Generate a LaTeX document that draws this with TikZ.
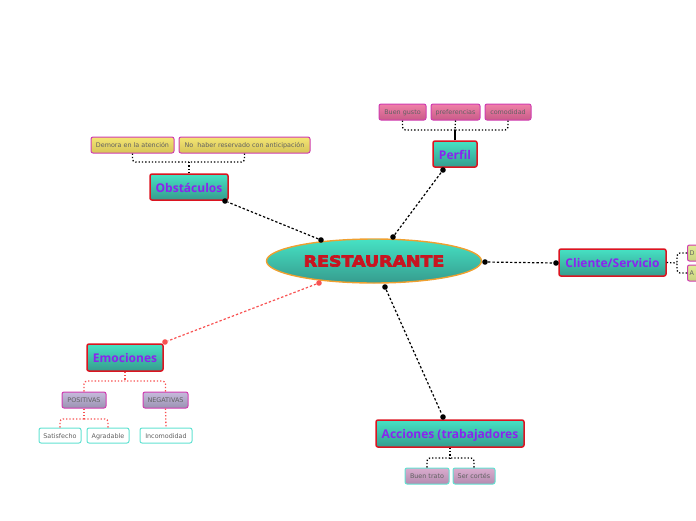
\documentclass[tikz,border=0pt]{standalone}
\usepackage{fontspec}
\setmainfont{DejaVu Sans}
\newfontfamily\ramafont{Open Sans Bold}
\newfontfamily\titulofont[FakeBold=4.5,FakeStretch=1.16]{DejaVu Sans Bold}
\usetikzlibrary{positioning}
\usetikzlibrary{shapes.geometric}

\definecolor{rojoBorde}{HTML}{DC1420}
\definecolor{rojoTitulo}{HTML}{C81420}
\definecolor{morado}{HTML}{8A24EE}
\definecolor{rojoLink}{HTML}{F85252}
\definecolor{tealA}{HTML}{46E2C4}
\definecolor{tealB}{HTML}{369C8E}
\definecolor{naranja}{HTML}{EFA030}
\definecolor{magentaBorde}{HTML}{D03CB0}
\definecolor{rosaA}{HTML}{F080A8}
\definecolor{rosaB}{HTML}{C85C88}
\definecolor{amarillaA}{HTML}{F4E674}
\definecolor{amarillaB}{HTML}{D6C458}
\definecolor{verdosaA}{HTML}{E2EC96}
\definecolor{verdosaB}{HTML}{C8D27E}
\definecolor{lilaA}{HTML}{C6BADC}
\definecolor{lilaB}{HTML}{9A92B2}
\definecolor{malvaA}{HTML}{DAACCE}
\definecolor{malvaB}{HTML}{B48CB0}
\definecolor{aguaBorde}{HTML}{62E2D2}

\tikzset{
  centro/.style={ellipse,draw=naranja,line width=1.4pt,top color=tealA,bottom color=tealB,
    minimum width=215,minimum height=44,inner sep=0,text=rojoTitulo,font=\titulofont\fontsize{15}{17}\selectfont},
  rama/.style={draw=rojoBorde,line width=1.5pt,rounded corners=2pt,top color=tealA,bottom color=tealB,
    inner sep=0,text height=10.6,text depth=0,text=morado,font=\ramafont\fontsize{12}{14}\selectfont},
  hoja/.style={rounded corners=2pt,line width=1pt,inner sep=0,minimum height=16,text height=5.6,text depth=0,
    text=black!62,font=\fontsize{6.4}{8}\selectfont},
  rosa/.style={hoja,draw=magentaBorde,top color=rosaA,bottom color=rosaB},
  amarilla/.style={hoja,draw=magentaBorde,top color=amarillaA,bottom color=amarillaB},
  verdosa/.style={hoja,draw=magentaBorde,top color=verdosaA,bottom color=verdosaB},
  lila/.style={hoja,draw=magentaBorde,top color=lilaA,bottom color=lilaB},
  blanca/.style={hoja,draw=aguaBorde,fill=white,minimum height=15},
  malva/.style={hoja,draw=aguaBorde,top color=malvaA,bottom color=malvaB},
  punto/.style={circle,fill=#1,inner sep=0,minimum size=5.6},
  enlace/.style={black,line width=1.2pt,dash pattern=on 2.4pt off 2pt},
  enlaceRojo/.style={rojoLink,line width=1.2pt,dash pattern=on 2.4pt off 2pt},
  arbol/.style={black,line width=1.3pt,dotted,rounded corners=3pt},
  arbolRojo/.style={rojoLink,line width=1.3pt,dotted,rounded corners=3pt}
}

\begin{document}
\begin{tikzpicture}[x=1pt,y=-1pt]

\useasboundingbox (0,0) rectangle (696,520);

% center
\node[centro] (restaurante) at (374,261) {RESTAURANTE};

% branches
\node[rama,minimum width=78,minimum height=26] (obstaculos) at (189,187) {Obstáculos};
\node[rama,minimum width=44,minimum height=26] (perfil) at (455,154) {Perfil};
\node[rama,minimum width=107,minimum height=27] (cliente) at (612.5,262.5) {Cliente/Servicio};
\node[rama,minimum width=76,minimum height=27] (emociones) at (125,357.5) {Emociones};
\node[rama,minimum width=148,minimum height=27] (acciones) at (450,433.5) {Acciones (trabajadores};

% dots on the links
\node[punto=black] (p1a) at (321,240) {};
\node[punto=black] (p1b) at (225,201) {};
\node[punto=black] (p2a) at (393,237) {};
\node[punto=black] (p2b) at (443,170) {};
\node[punto=black] (p3a) at (485,262) {};
\node[punto=black] (p3b) at (556,263) {};
\node[punto=rojoLink] (p4a) at (319,283) {};
\node[punto=rojoLink] (p4b) at (165,342) {};
\node[punto=black] (p5a) at (385,287) {};
\node[punto=black] (p5b) at (443,417) {};

\draw[enlace] (p1a) -- (p1b);
\draw[enlace] (p2a) -- (p2b);
\draw[enlace] (p3a) -- (p3b);
\draw[enlaceRojo] (p4a) -- (p4b);
\draw[enlace] (p5a) -- (p5b);

% Obstaculos
\node[amarilla,minimum width=83] (demora) at (132.5,145) {Demora en la atención};
\node[amarilla,minimum width=131] (reserva) at (244.5,145) {No\ \ haber reservado con anticipación};
\coordinate (busObs) at (189,162);
\draw[arbol] (demora.south) |- (busObs);
\draw[arbol] (reserva.south) |- (busObs);
\draw[arbol] (obstaculos.north) -- (busObs);

% Perfil
\node[rosa,minimum width=47] (gusto) at (402.5,112) {Buen gusto};
\node[rosa,minimum width=49] (preferencias) at (455.5,112) {preferencias};
\node[rosa,minimum width=46] (comodidad) at (508,112) {comodidad};
\coordinate (busPerfil) at (455,130);
\draw[arbol] (gusto.south) |- (busPerfil);
\draw[arbol] (comodidad.south) |- (busPerfil);
\draw[arbol] (preferencias.south) -- (busPerfil);
\draw[black,line width=1.3pt] (perfil.north) -- (busPerfil);

% Cliente/Servicio, cut by the page edge
\node[verdosa,anchor=west,minimum width=30,text width=26,align=left] (hojaD) at (687,253) {D};
\node[verdosa,anchor=west,minimum width=30,text width=26,align=left] (hojaA) at (687,273) {A};
\coordinate (busCliente) at (677,263);
\draw[arbol] (hojaD.west) -| (busCliente);
\draw[arbol] (hojaA.west) -| (busCliente);
\draw[arbol] (cliente.east) -- (busCliente);

% Emociones
\node[lila,minimum width=44] (positivas) at (84,400) {POSITIVAS};
\node[lila,minimum width=45] (negativas) at (165.5,400) {NEGATIVAS};
\node[blanca,minimum width=42] (satisfecho) at (60,435.5) {Satisfecho};
\node[blanca,minimum width=42] (agradable) at (108,435.5) {Agradable};
\node[blanca,minimum width=52] (incomodidad) at (166,435.5) {Incomodidad};
\coordinate (busEmo) at (125,381);
\coordinate (busPos) at (84,419);
\draw[arbolRojo] (positivas.north) |- (busEmo);
\draw[arbolRojo] (negativas.north) |- (busEmo);
\draw[arbolRojo] (emociones.south) -- (busEmo);
\draw[arbolRojo] (satisfecho.north) |- (busPos);
\draw[arbolRojo] (agradable.north) |- (busPos);
\draw[arbolRojo] (positivas.south) -- (busPos);
\draw[arbolRojo] (negativas.south) -- (incomodidad.north);

% Acciones
\node[malva,minimum width=44] (trato) at (427,476) {Buen trato};
\node[malva,minimum width=42] (cortes) at (474,476) {Ser cortés};
\coordinate (busAcc) at (450,458);
\draw[arbol] (trato.north) |- (busAcc);
\draw[arbol] (cortes.north) |- (busAcc);
\draw[arbol] (acciones.south) -- (busAcc);

\end{tikzpicture}
\end{document}
